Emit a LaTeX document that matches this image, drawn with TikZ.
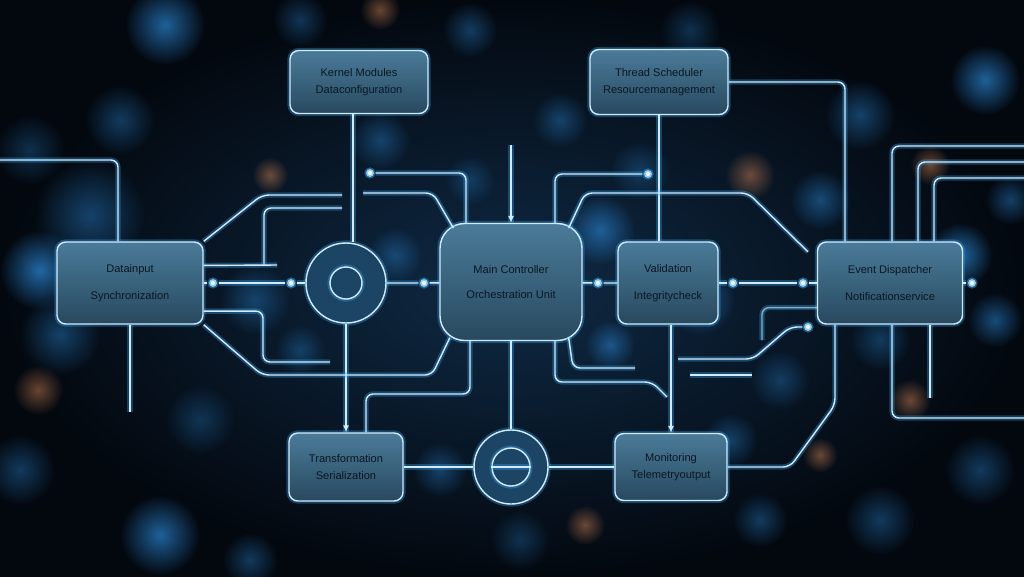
\documentclass[tikz,border=0pt]{standalone}
\usepackage{fontspec}
\setmainfont{Liberation Sans}
\usetikzlibrary{arrows.meta,fadings}

\definecolor{bgin}{HTML}{0F2A45}
\definecolor{bgout}{HTML}{03080F}
\definecolor{linec}{HTML}{D2ECFF}
\definecolor{glowc}{HTML}{3AA2E6}
\definecolor{boxhi}{HTML}{4A7B99}
\definecolor{boxlo}{HTML}{28495F}
\definecolor{ringc}{HTML}{1C4465}
\definecolor{txtc}{HTML}{0B1722}
\definecolor{dotc}{HTML}{F2FAFF}
\definecolor{bokb}{HTML}{2A84D0}
\definecolor{boko}{HTML}{C07A50}

\tikzfading[name=soft, inner color=transparent!10, outer color=transparent!100]

\tikzset{
  glow/.style={draw=linec, line width=0.8pt, preaction={draw=glowc, line width=3pt, draw opacity=0.35, -}},
  wire/.style={glow, rounded corners=4pt},
  arr/.style={wire, -{Latex[length=4pt,width=3.6pt]}},
  blk/.style={rectangle, rounded corners=5pt, glow, top color=boxhi, bottom color=boxlo,
    text=txtc, align=center, inner sep=2pt, font=\fontsize{6.3}{10}\selectfont},
  ring/.style={circle, glow, fill=ringc, inner sep=0pt},
  dot/.style={circle, fill=dotc, inner sep=0pt, minimum size=4.5pt, draw=glowc, line width=1.8pt, draw opacity=0.5},
  bokeh/.style={path fading=soft}
}

\begin{document}
\begin{tikzpicture}[x=0.02cm, y=-0.02cm]
  %%%%% background %%%%%
  \useasboundingbox (0,0) rectangle (1024,576);
  \shade[inner color=bgin, outer color=bgout] (0,0) rectangle (1024,576);
  \foreach \bx/\by/\br/\bo in {165/25/0.8/0.8, 40/270/0.8/0.85, 90/215/1.1/0.5, 60/335/0.8/0.5,
      985/80/0.7/0.8, 960/255/0.65/0.85, 995/320/0.55/0.6, 160/535/0.8/0.8, 700/300/0.7/0.6,
      600/230/0.7/0.7, 610/345/0.5/0.6, 255/300/0.7/0.45, 440/470/0.55/0.45, 880/520/0.7/0.45,
      380/140/0.6/0.45, 470/30/0.55/0.45, 860/115/0.7/0.5, 250/560/0.55/0.45, 980/470/0.7/0.45,
      20/470/0.7/0.45, 760/520/0.55/0.45, 730/440/0.55/0.45, 300/20/0.55/0.4, 560/120/0.55/0.45,
      120/120/0.7/0.45, 820/200/0.6/0.55, 395/255/0.55/0.45, 200/420/0.7/0.35, 520/540/0.6/0.35,
      690/30/0.6/0.35, 780/380/0.6/0.4, 880/340/0.6/0.4, 30/150/0.7/0.35, 640/170/0.6/0.35,
      300/350/0.5/0.4, 470/180/0.5/0.35, 1010/200/0.5/0.5}
    \fill[bokb, bokeh, opacity=\bo] (\bx,\by) circle (\br cm);
  \foreach \bx/\by/\br in {38/390/0.5, 585/525/0.4, 750/175/0.5, 930/165/0.4, 910/400/0.42,
      635/300/0.35, 270/175/0.36, 820/455/0.35, 380/10/0.4}
    \fill[boko, bokeh, opacity=0.6] (\bx,\by) circle (\br cm);

  %%%%% blocks %%%%%
  \node[blk, minimum width=2.76cm, minimum height=1.26cm] (cfg) at (359,82) {Kernel Modules\\Dataconfiguration};
  \node[blk, minimum width=2.76cm, minimum height=1.3cm] (ctl) at (659,82) {Thread Scheduler\\Resourcemanagement};
  \node[blk, minimum width=2.92cm, minimum height=1.64cm] (inp) at (130,283) {Datainput\\[5pt]Synchronization};
  \node[blk, rounded corners=14pt, minimum width=2.84cm, minimum height=2.34cm] (core) at (511,282) {Main Controller\\[4pt]Orchestration Unit};
  \node[blk, minimum width=2.0cm, minimum height=1.64cm] (val) at (668,283) {Validation\\[5pt]Integritycheck};
  \node[blk, minimum width=2.9cm, minimum height=1.64cm] (out) at (890,283) {Event Dispatcher\\[5pt]Notificationservice};
  \node[blk, minimum width=2.28cm, minimum height=1.36cm] (trf) at (346,467) {Transformation\\Serialization};
  \node[blk, minimum width=2.24cm, minimum height=1.34cm] (mon) at (671,467) {Monitoring\\Telemetryoutput};

  %%%%% rings %%%%%
  \node[ring, minimum size=1.6cm] (mix) at (346,283) {};
  \node[ring, minimum size=0.64cm] (mixin) at (mix) {};
  \node[ring, minimum size=1.48cm] (bus) at (511,467) {};
  \node[ring, minimum size=0.76cm] (busin) at (bus) {};
  \draw[glow] (busin.west) -- (busin.east);

  %%%%% dots %%%%%
  \node[dot] (d1) at (213,283) {};
  \node[dot] (d2) at (291,283) {};
  \node[dot] (d3) at (424,283) {};
  \node[dot] (d4) at (598,283) {};
  \node[dot] (d5) at (733,283) {};
  \node[dot] (d6) at (803,283) {};
  \node[dot] (d7) at (972,283) {};
  \node[dot] (d8) at (370,173) {};
  \node[dot] (d9) at (648,174) {};
  \node[dot] (d10) at (808,327) {};

  %%%%% guide coordinates %%%%%
  \coordinate (xa) at (845,0);
  \coordinate (xb) at (835,0);
  \coordinate (xc) at (118,0);
  \coordinate (xd) at (353,0);
  \coordinate (xe) at (366,0);
  \coordinate (xf) at (470,0);
  \coordinate (xg) at (466,0);
  \coordinate (xh) at (555,0);
  \coordinate (xj) at (892,0);
  \coordinate (xk) at (918,0);
  \coordinate (xl) at (934,0);
  \coordinate (cin) at (511,145);
  \coordinate (lf) at (0,160);
  \coordinate (lb) at (130,412);
  \coordinate (rb) at (930,398);

  %%%%% main row %%%%%
  \draw[wire] (inp) -- (d1) -- (d2) -- (mix);
  \draw[wire] (mix) -- (d3) -- (core);
  \draw[wire] (core) -- (d4) -- (val);
  \draw[wire] (val) -- (d5) -- (d6) -- (out);
  \draw[wire] (out) -- (d7);

  %%%%% verticals %%%%%
  \draw[wire] (cfg.south -| xd) -- (mix.north -| xd);
  \draw[wire] (ctl.south) -- (ctl.south |- val.north);
  \draw[arr] (mix) -- (trf);
  \draw[arr] (cin) -- (core);
  \draw[wire] (core) -- (bus);
  \draw[wire] (bus) -- (trf);
  \draw[wire] (bus) -- (mon);
  \draw[arr] (val.south -| mon) -- (mon);

  %%%%% side links %%%%%
  \draw[wire] (ctl.east) -| (out.north -| xa);
  \draw[wire] (out.south -| xb) -- (835,405) -- (790,467) -- (mon.east);
  \draw[wire] (lf) -| (inp.north -| xc);
  \draw[wire] (inp.south) -- (lb);
  \draw[wire] (inp.north east) -- (262,195) -- (342,195);
  \draw[wire] (342,208) -| (264,265);
  \draw[wire] ([yshift=10pt]inp.east) -- (277,265);
  \draw[wire] ([yshift=-16pt]inp.east) -| (263,362) -- (330,362);
  \draw[wire] (inp.south east) -- (262,375) -- (432,375) -- ([xshift=6pt,yshift=2pt]core.south west);
  \draw[wire] (trf.north -| xe) |- (470,394) -- (core.south -| xf);
  \draw[wire] (d8) -| (core.north -| xg);
  \draw[wire] (363,193) -- (433,193) -- ([xshift=8pt,yshift=-3pt]core.north west);
  \draw[wire] (d9) -| (core.north -| xh);
  \draw[wire] ([xshift=-8pt,yshift=-3pt]core.north east) -- (585,193) -- (748,193) -- ([xshift=-5pt,yshift=-6pt]out.north west);
  \draw[wire] ([xshift=-8pt,yshift=2pt]core.south east) -- (573,368) -- (635,368);
  \draw[wire] (core.south -| xh) |- (652,382) -- (667,397);
  \draw[wire] (678,359) -- (753,359) -- (790,327) -- (d10);
  \draw[wire] (690,375) -- (752,375);
  \draw[wire, draw opacity=0.6] ([yshift=-14pt]out.west) -| (762,340);
  \draw[wire] (out.north -| xj) |- (1024,146);
  \draw[wire] (out.north -| xk) |- (1024,162);
  \draw[wire] (out.north -| xl) |- (1024,178);
  \draw[wire] (out.south -| xj) |- (1024,418);
  \draw[wire] (out.south -| rb) -- (rb);
\end{tikzpicture}
\end{document}
